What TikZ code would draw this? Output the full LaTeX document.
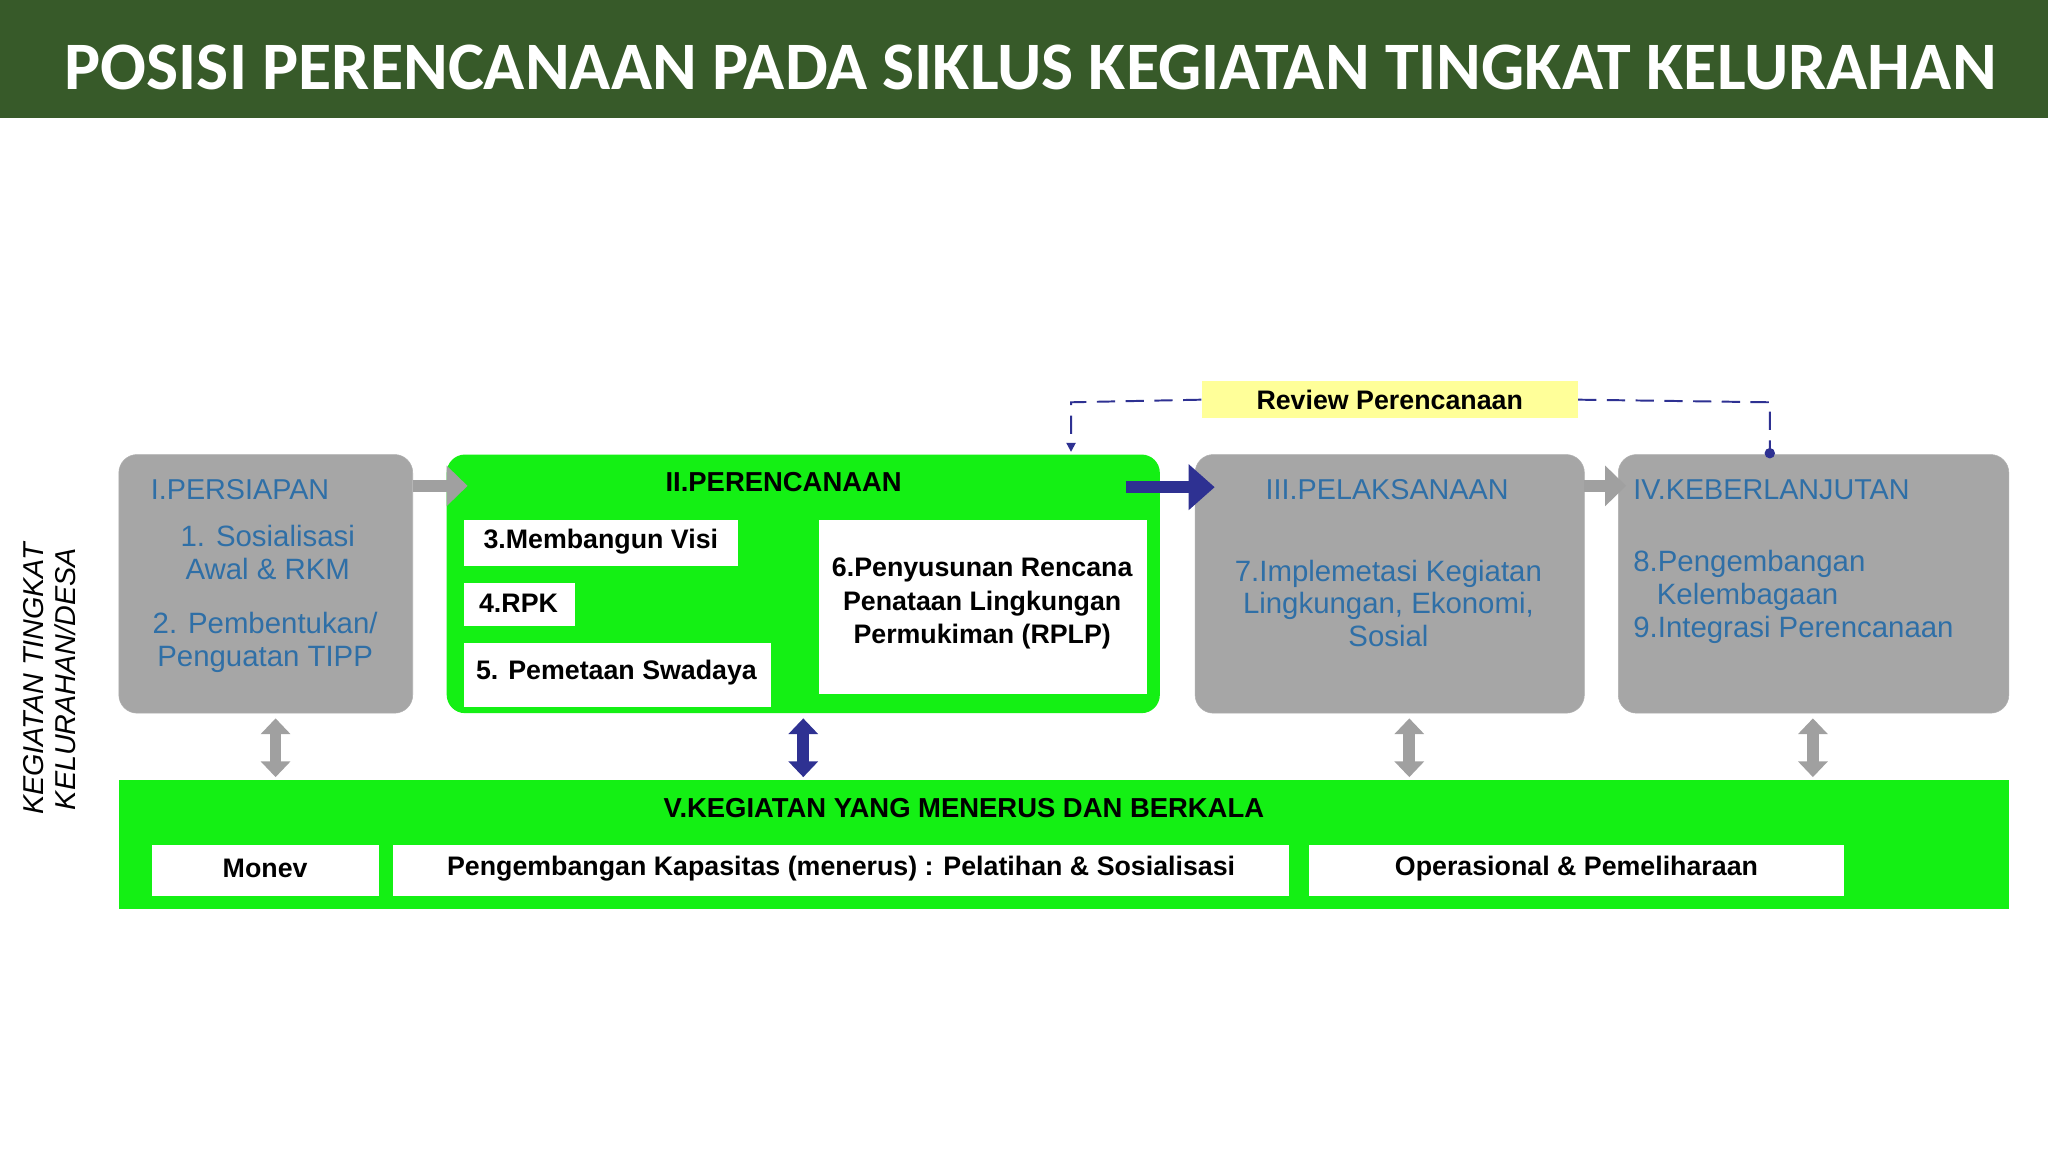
\documentclass[tikz,border=0pt]{standalone}
\usepackage{fontspec}
\setmainfont{Liberation Sans}
\newfontfamily\titlefont{Carlito}
\usetikzlibrary{arrows.meta}
\definecolor{tgreen}{HTML}{375A29}
\definecolor{boxgray}{HTML}{A6A6A6}
\definecolor{bgreen}{HTML}{14F014}
\definecolor{tblue}{HTML}{2F6FA6}
\definecolor{navy}{HTML}{2E3192}
\definecolor{ylw}{HTML}{FFFF99}
\definecolor{agray}{HTML}{A0A0A0}
\tikzset{x=1pt,y=-1pt,
 graybox/.style={fill=boxgray,draw=boxgray!90!white,rounded corners=14pt},
 greenbox/.style={fill=bgreen,rounded corners=14pt},
 btxt/.style={text=tblue,font=\fontsize{22.5}{25}\selectfont,align=center},
 ktxt/.style={text=black,font=\bfseries\fontsize{20.5}{25.5}\selectfont,align=center},
 hdr/.style={font=\fontsize{22}{24}\selectfont},
 dbl/.style={line width=9pt,{Triangle[width=22pt,length=12pt]}-{Triangle[width=22pt,length=12pt]}},
 chev/.style={agray,line width=9pt,-{Triangle[width=30pt,length=16pt]}},
 rev/.style={navy,dashed,dash pattern=on 14pt off 8pt,line width=1.5pt}}
\begin{document}
\begin{tikzpicture}
\useasboundingbox (0,0) rectangle (1568,882);
\fill[white] (0,0) rectangle (1568,882);
\fill[tgreen] (0,0) rectangle (1568,90);
\node[text=white,font=\titlefont\bfseries\fontsize{52}{56}\selectfont] (title) at (789,52) {POSISI PERENCANAAN PADA SIKLUS KEGIATAN TINGKAT KELURAHAN};
\node[rotate=90,font=\itshape\fontsize{22}{25}\selectfont,align=center] (side) at (38,520) {KEGIATAN TINGKAT\\KELURAHAN/DESA};
% boxes
\draw[graybox] (91,348) rectangle (316,546);
\node[btxt,hdr,anchor=west] (h1) at (112,375) {I.PERSIAPAN};
\node[btxt] (t1) at (205,423) {1. Sosialisasi\\Awal \& RKM};
\node[btxt] (t2) at (203,492) {2. Pembentukan/\\Penguatan TIPP};
\fill[greenbox] (342,348) rectangle (888,546);
\node[font=\bfseries\fontsize{21}{24}\selectfont] (h2) at (600,369) {II.PERENCANAAN};
\fill[white] (355,398) rectangle (565,433); \node[ktxt] (v3) at (460,415) {3.Membangun Visi};
\fill[white] (355,446) rectangle (440,479); \node[ktxt] (v4) at (397,462) {4.RPK};
\fill[white] (355,492) rectangle (590,541); \node[ktxt] (v5) at (472,515) {5. Pemetaan Swadaya};
\fill[white] (627,398) rectangle (878,531); \node[ktxt] (v6) at (752,462) {6.Penyusunan Rencana\\Penataan Lingkungan\\Permukiman (RPLP)};
\draw[graybox] (915,348) rectangle (1213,546);
\node[btxt,hdr] (h3) at (1062,375) {III.PELAKSANAAN};
\node[btxt] (t7) at (1063,462) {7.Implemetasi Kegiatan\\Lingkungan, Ekonomi,\\Sosial};
\draw[graybox] (1239,348) rectangle (1538,546);
\node[btxt,hdr,anchor=west] (h4) at (1247,375) {IV.KEBERLANJUTAN};
\node[btxt,align=left,anchor=north west] (t8) at (1247,418) {8.Pengembangan\\\hspace*{18pt}Kelembagaan\\9.Integrasi Perencanaan};
% chevrons
\coordinate (c1a) at (316,372); \coordinate (c1b) at (358,372);
\draw[chev] (c1a) -- (c1b);
\coordinate (c3a) at (1213,372); \coordinate (c3b) at (1245,372);
\draw[chev] (c3a) -- (c3b);
\coordinate (c2a) at (862,373); \coordinate (c2b) at (930,373);
\draw[navy,line width=9pt,-{Triangle[width=34pt,length=20pt]}] (c2a) -- (c2b);
% review
\node[fill=ylw,minimum width=288pt,minimum height=28pt,font=\bfseries\fontsize{20.5}{22}\selectfont] (rv) at (1064,306) {Review Perencanaan};
\coordinate (ra) at (820,346); \coordinate (rb) at (1355,347);
\draw[rev,-{Triangle[width=7pt,length=7pt]}] (rv.west) -- (820,308) -- (ra);
\draw[rev] (rv.east) -- (1355,308) -- (rb);
\fill[navy] (rb) circle (4pt);
% bottom
\fill[bgreen] (91,597) rectangle (1538,696);
\node[font=\bfseries\fontsize{21}{24}\selectfont] (h5) at (738,619) {V.KEGIATAN YANG MENERUS DAN BERKALA};
\fill[white] (116,647) rectangle (290,686); \node[ktxt] (m1) at (203,665) {Monev};
\fill[white] (301,647) rectangle (987,686); \node[ktxt] (m2) at (644,665) {Pengembangan Kapasitas (menerus) : Pelatihan \& Sosialisasi};
\fill[white] (1002,647) rectangle (1412,686); \node[ktxt] (m3) at (1207,665) {Operasional \& Pemeliharaan};
% vertical double arrows
\foreach \x/\c in {211/agray,615/navy,1079/agray,1388/agray}{
 \draw[dbl,\c] (\x,550) -- (\x,595);}
\end{tikzpicture}
\end{document}
